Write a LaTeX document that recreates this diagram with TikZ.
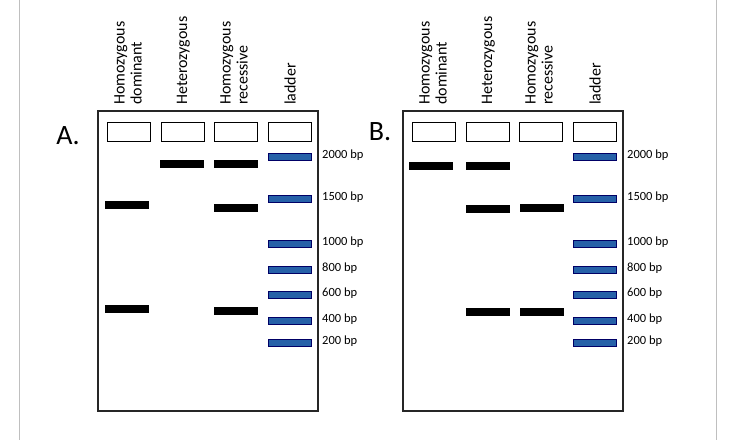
\documentclass[tikz,border=0pt]{standalone}
\usepackage{fontspec}
\setmainfont{Carlito}
\begin{document}
\begin{tikzpicture}[x=1pt,y=-1pt,
  gel/.style={draw=black!85,line width=1.3pt,fill=white},
  well/.style={draw=black,line width=1pt},
  band/.style={fill=black},
  lad/.style={fill=blue!55!cyan!60!black!85,draw=blue!40!black,line width=0.4pt},
  bp/.style={anchor=west,font=\fontsize{12.5}{14}\selectfont,inner sep=0pt},
  hdr/.style={rotate=90,anchor=south west,font=\fontsize{16}{17}\selectfont,align=left,inner sep=0pt},
  lbl/.style={font=\fontsize{28}{30}\selectfont,inner sep=0pt}]
\useasboundingbox (0,0) rectangle (731,440);
\draw[black!25,line width=1pt] (19,0) -- (19,440) (716,0) -- (716,440);
\foreach \o/\n in {0/A,305/B}{
  \begin{scope}[xshift=\o]
  \draw[gel] (98,111) rectangle (318,411);
  \foreach \x in {107,161,214,268}{\draw[well] (\x,122) rectangle (\x+43,141);}
  \foreach \y/\t in {157/2000,199/1500,244/1000,270/800,295/600,321/400,343/200}{
    \fill[lad] (268,\y-3.5) rectangle (311,\y+3.5);
    \node[bp] (l\n\t) at (322,\y-2) {\t{} bp};}
  \end{scope}}
\node[lbl] (A) at (68,136) {A.};
\node[lbl] (B) at (380,132) {B.};
% panel A bands
\foreach \x/\y in {105/205,105/309,160/164,214/164,214/208,214/311}{\fill[band] (\x,\y-4) rectangle (\x+44,\y+4);}
% panel B bands
\foreach \x/\y in {409/166,466/166,466/209,466/312,520/208,520/312}{\fill[band] (\x,\y-4) rectangle (\x+44,\y+4);}
\foreach \o/\n in {0/A,305/B}{
  \node[hdr] (h1\n) at (142+\o,105) {Homozygous\\dominant};
  \node[hdr] (h2\n) at (190+\o,105) {Heterozygous};
  \node[hdr] (h3\n) at (248+\o,105) {Homozygous\\recessive};
  \node[hdr] (h4\n) at (296+\o,105) {ladder};}
\end{tikzpicture}
\end{document}
